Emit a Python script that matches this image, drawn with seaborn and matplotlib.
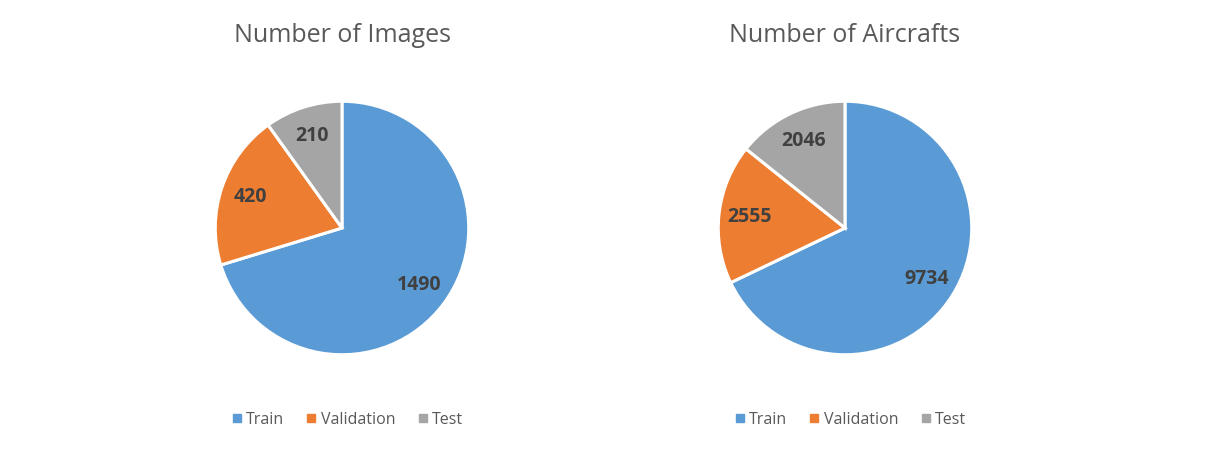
import matplotlib.pyplot as plt
import seaborn as sns
from matplotlib.lines import Line2D

splits = ["Train", "Validation", "Test"]
images = [1490, 420, 210]
aircrafts = [9734, 2555, 2046]
titles = ["Number of Images", "Number of Aircrafts"]
colors = ["#5B9BD5", "#ED7D31", "#A5A5A5"]

sns.set_theme(style="white")
plt.rcParams["font.family"] = ["Open Sans", "DejaVu Sans"]

fig = plt.figure(figsize=(12.19, 4.5), dpi=100)

centers = [342, 845]
radius = 128
W, H = 1219, 450
cy = 228

for cx, title, values in zip(centers, titles, [images, aircrafts]):
    ax = fig.add_axes([(cx - radius) / W, (H - cy - radius) / H, 2 * radius / W, 2 * radius / H])
    total = sum(values)
    ax.pie(
        values,
        colors=colors,
        startangle=90,
        counterclock=False,
        radius=1,
        autopct=lambda p, t=total: f"{round(p * t / 100)}",
        pctdistance=0.76,
        wedgeprops=dict(edgecolor="white", linewidth=2.2),
        textprops=dict(color="#404040", fontsize=14, fontweight="bold"),
    )
    ax.set_xlim(-1.01, 1.01)
    ax.set_ylim(-1.01, 1.01)
    ax.set_aspect("equal")
    ax.axis("off")

    fig.text(cx / W, 1 - 35 / H, title, ha="center", va="center", fontsize=18, color="#595959")

    handles = [Line2D([], [], marker="s", linestyle="", markersize=5.5, color=c) for c in colors]
    fig.legend(
        handles, splits,
        loc="center", bbox_to_anchor=((cx + 4) / W, 1 - 420 / H),
        ncol=3, frameon=False, fontsize=11.5, labelcolor="#595959",
        handletextpad=0.1, columnspacing=1.2, handlelength=1.0,
    )

fig.savefig("out.png", dpi=100, facecolor="white")
